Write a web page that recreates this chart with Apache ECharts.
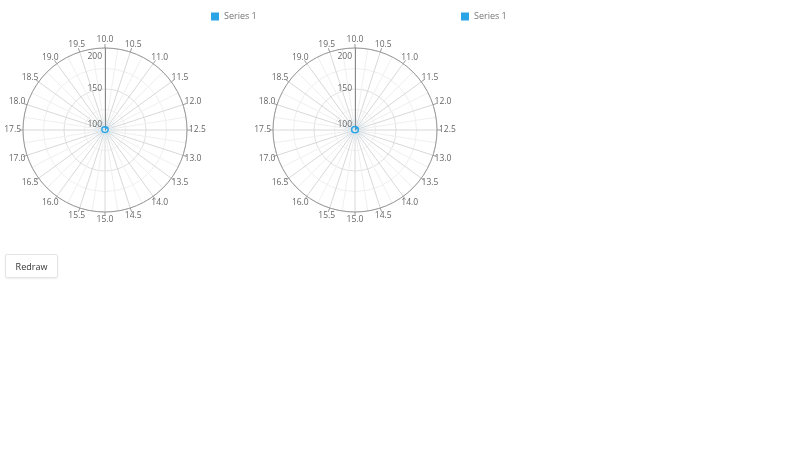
<!DOCTYPE html>
<html>
<head>
<meta charset="utf-8">
<script src="https://cdn.jsdelivr.net/npm/echarts@6/dist/echarts.min.js"></script>
<style>
html,body{margin:0;padding:0;background:#fff;}
#chart{position:absolute;left:0;top:0;width:800px;height:450px;}
#redraw{position:absolute;left:5px;top:254px;width:53px;height:24px;background:#fff;border:1px solid #e4e4e4;border-radius:2px;box-shadow:0 1px 2px rgba(0,0,0,0.07);font-family:"Open Sans",sans-serif;font-size:9px;color:#333;padding:0;}
</style>
</head>
<body>
<div id="chart"></div>
<button id="redraw">Redraw</button>
<script>
const seriesName = 'Series 1';
const angleMin = 10, angleMax = 20, angleStep = 0.5;
const radiusMin = 100, radiusMax = 200, radiusStep = 50;
// loop of points near the centre: [radius, angle]
const loopAngles1 = [10, 11, 12, 13, 14, 15, 16, 17, 18, 19, 20, 10.5, 11.5];
const loopRadii1  = [104, 104.2, 104, 103.6, 103.3, 103.1, 103.3, 103.6, 104, 104.2, 104, 103, 101.8];
const loopAngles2 = [10, 11, 12, 13, 14, 15, 16, 17, 18, 19, 20, 11, 12];
const loopRadii2  = [104.4, 104.5, 104.3, 104, 103.6, 103.4, 103.6, 104, 104.3, 104.5, 104.4, 103.2, 101.9];

const centers = [[105, 130], [355, 130]];
const legendLefts = [206, 456];
const R = 82, LABEL_R = 91.5, MARGIN = -12, TW = 15, TH = 12;

function zip(rs, as){ return rs.map((r,i)=>[r, as[i]]); }
const datas = [zip(loopRadii1, loopAngles1), zip(loopRadii2, loopAngles2)];

// rich styles that centre each angle label on a circle of radius LABEL_R
const angleRich = {};
const nTicks = Math.round((angleMax - angleMin) / angleStep);
for (let i = 0; i < nTicks; i++) {
  const th = i / nTicks * Math.PI * 2;
  const sx = Math.sin(th), sy = -Math.cos(th);
  const A = R + MARGIN, d = LABEL_R - A;
  const dx = d * sx, dy = d * sy;
  let pl = 0, pr = 0, pt = 0, pb = 0;
  const ax = Math.abs(A * sx) / R < 0.3 ? 'c' : (sx > 0 ? 'l' : 'r');
  const ay = Math.abs(A * sy) / R < 0.3 ? 'm' : (sy > 0 ? 't' : 'b');
  if (ax === 'l') pl = dx - TW / 2;
  else if (ax === 'r') pr = -dx - TW / 2;
  else { if (dx > 0) pl = 2 * dx; else pr = -2 * dx; }
  if (ay === 't') pt = dy - TH / 2;
  else if (ay === 'b') pb = -dy - TH / 2;
  else { if (dy > 0) pt = 2 * dy; else pb = -2 * dy; }
  angleRich['a' + i] = {padding: [Math.max(0, pt), Math.max(0, pr), Math.max(0, pb), Math.max(0, pl)]};
}

const chart = echarts.init(document.getElementById('chart'));
const font = '"Open Sans", sans-serif';
const option = {
  animation: false,
  legend: centers.map((c,i)=>({
    left: legendLefts[i], top: 7, itemWidth: 8, itemHeight: 8, itemGap: 5,
    icon: 'rect', data: [{name: seriesName}], textStyle: {fontSize: 9, color: '#777', fontFamily: font}
  })),
  polar: centers.map(c=>({center: c, radius: R})),
  angleAxis: centers.map((c,i)=>({
    polarIndex: i, type: 'value', min: angleMin, max: angleMax, interval: angleStep,
    startAngle: 90, clockwise: true,
    axisLine: {lineStyle: {color: '#999', width: 1}},
    axisTick: {show: true, length: 4, lineStyle: {color: '#999'}},
    axisLabel: {color: '#666', fontSize: 8.5, fontFamily: font, margin: MARGIN,
      rich: Object.fromEntries(Object.entries(angleRich).map(([k,v])=>[k, Object.assign({color:'#666', fontSize:8.5, fontFamily:font}, v)])),
      formatter: v => {
        if (v >= angleMax) return '';
        const idx = Math.round((v - angleMin) / angleStep);
        return '{a' + idx + '|' + v.toFixed(1) + '}';
      }},
    splitLine: {show: true, lineStyle: {color: '#d8d8d8', width: 1}},
    minorTick: {show: false, splitNumber: 2},
    minorSplitLine: {show: true, lineStyle: {color: '#efefef', width: 1}}
  })),
  radiusAxis: centers.map((c,i)=>({
    polarIndex: i, type: 'value', min: radiusMin, max: radiusMax, interval: radiusStep,
    axisLine: {lineStyle: {color: '#888', width: 1}},
    axisTick: {show: false},
    axisLabel: {color: '#666', fontSize: 8.5, fontFamily: font, margin: 3,
      rich: {
        up: {color:'#666', fontSize:8.5, fontFamily:font, padding:[0,0,10,0]},
        mid: {color:'#666', fontSize:8.5, fontFamily:font},
        down: {color:'#666', fontSize:8.5, fontFamily:font, padding:[17,0,0,0]}
      },
      formatter: v => (v <= radiusMin ? '{up|' + v + '}' : v >= radiusMax ? '{down|' + v + '}' : '{mid|' + v + '}')},
    splitLine: {show: true, lineStyle: {color: '#e0e0e0'}},
    minorTick: {show: false, splitNumber: 2},
    minorSplitLine: {show: true, lineStyle: {color: '#efefef'}}
  })),
  series: centers.map((c,i)=>({
    name: seriesName, type: 'line', coordinateSystem: 'polar', polarIndex: i,
    data: datas[i], showSymbol: false, smooth: true, color: '#29a5e6',
    lineStyle: {width: 1.5, color: '#29a5e6', shadowBlur: 10, shadowColor: 'rgba(41,165,230,0.6)'}
  }))
};
chart.setOption(option);
</script>
</body>
</html>
